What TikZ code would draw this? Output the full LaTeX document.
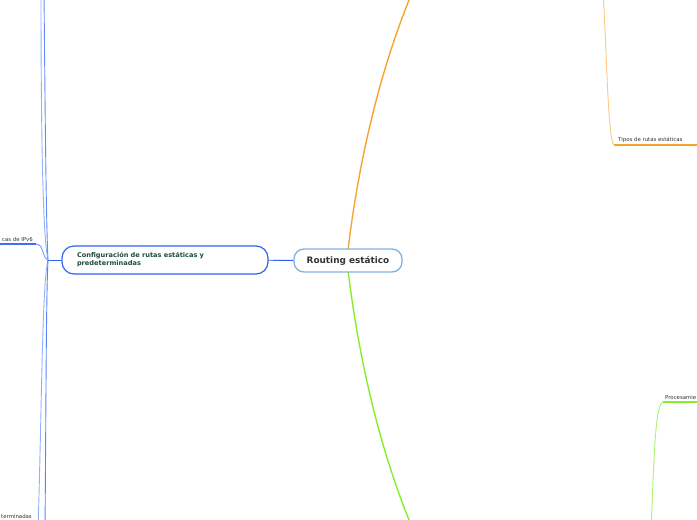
\documentclass[tikz,border=0pt]{standalone}
\usepackage{fontspec}
\setmainfont{DejaVu Sans}
\usepackage{tikz}
\definecolor{rootline}{HTML}{7FB2E0}
\definecolor{roottext}{HTML}{333333}
\definecolor{topicline}{HTML}{2F62F2}
\definecolor{topictext}{HTML}{1E4D3A}
\definecolor{orangebr}{HTML}{F7A330}
\definecolor{greenbr}{HTML}{85F02A}
\definecolor{bluebr}{HTML}{3D6FF5}
\tikzset{%
	rootbox/.style  = {draw=rootline, line width=1.3pt, rounded corners=10pt, fill=white,
		minimum width=108pt, minimum height=23pt, font=\fontsize{8.9}{10}\selectfont\bfseries,
		text=roottext}, % Root
	topicbox/.style = {draw=topicline, line width=1.2pt, rounded corners=12pt, fill=white,
		minimum width=206pt, minimum height=28pt, text width=176pt, align=left,
		font=\fontsize{6.6}{8}\selectfont\bfseries, text=topictext}, % Topic
	leaf/.style     = {inner sep=1pt, font=\fontsize{5.4}{6}\selectfont, text=black!80}, % Label
	branch/.style   = {line width=1.4pt}, % Main branch
	twig/.style     = {line width=0.9pt} % Thin branch
}

\begin{document}
\begin{tikzpicture}[x=1pt,y=-1pt]
	\useasboundingbox (0,0) rectangle (697,520);
	\clip (0,0) rectangle (697,520);
	
	\coordinate (top) at (422,-30);
	\coordinate (bottom) at (422,550);
	\coordinate (tipoend) at (697,145);
	\coordinate (tipostart) at (614,145);
	\coordinate (procend) at (697,402);
	\coordinate (procstart) at (663,402);
	\coordinate (hub) at (48,260);
	\coordinate (ipv6end) at (36,244);
	
	\draw[branch, orangebr] (348,250) .. controls (360,150) and (385,50) .. (top);
	\draw[branch, greenbr] (348,270) .. controls (360,370) and (385,470) .. (bottom);
	
	\node[rootbox] at (348,260.5) (root) {Routing estático};
	\node[topicbox] at (165,260) (config) {Configuración de rutas estáticas y\\predeterminadas};
	
	\node[leaf, anchor=south west] at (617,144) (tipos) {Tipos de rutas estáticas};
	\node[leaf, anchor=south west] at (664,401) (proc) {Procesamie};
	\node[leaf, anchor=south east] at (34,243) (ipv6) {cas de IPv6};
	\node[leaf, anchor=south east] at (33,520) (predet) {terminadas};
	
	\draw[twig, topicline] (root) -- (config);
	\draw[twig, topicline] (config) -- (hub);
	
	% orange side
	\draw[twig, orangebr!60] (603,-10) .. controls (607,60) and (608,140) .. (tipostart);
	\draw[line width=1.2pt, orangebr] (tipostart) -- (tipoend);
	
	% green side
	\draw[twig, greenbr!70] (procstart) .. controls (655,404) and (654,460) .. (651,530);
	\draw[line width=1.2pt, greenbr] (procstart) -- (procend);
	
	% blue side
	\draw[twig, bluebr!55] (hub) .. controls (42,235) and (41,100) .. (41,-10);
	\draw[twig, bluebr!80] (hub) .. controls (46,220) and (45,100) .. (44,-10);
	\draw[line width=1.2pt, bluebr] (0,244) -- (ipv6end);
	\draw[twig, bluebr!70] (ipv6end) .. controls (44,244) and (42,258) .. (hub);
	\draw[twig, bluebr!55] (hub) .. controls (42,285) and (42,400) .. (38,530);
	\draw[twig, bluebr!85] (hub) .. controls (46,300) and (46,420) .. (45,530);
	
\end{tikzpicture}
\end{document}
